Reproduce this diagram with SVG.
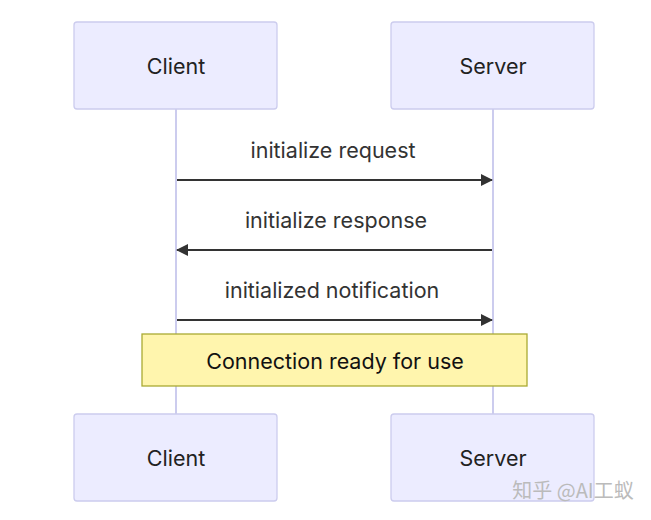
<svg xmlns="http://www.w3.org/2000/svg" width="651" height="520" viewBox="0 0 651 520">
<style>
.actor{fill:#ECECFF;stroke:#CCCCEE;stroke-width:1.3}
.t{font-family:Inter,"Liberation Sans",sans-serif;font-size:21.5px;fill:#222;text-anchor:middle}
.m{font-family:Inter,"Liberation Sans",sans-serif;font-size:21.5px;fill:#333;text-anchor:middle}
.life{stroke:#CCCCEE;stroke-width:2}
.msg{stroke:#333;stroke-width:2;fill:none}
</style>
<defs>
<marker id="ah" viewBox="0 0 12 12" refX="11" refY="6" markerWidth="12" markerHeight="12" markerUnits="userSpaceOnUse" orient="auto"><path d="M0,0L12,6L0,12z" fill="#333"/></marker>
</defs>
<rect width="651" height="520" fill="#fff"/>
<g id="lifelines">
<line class="life" x1="176" y1="109" x2="176" y2="414"/>
<line class="life" x1="493" y1="109" x2="493" y2="414"/>
</g>
<g id="client-top"><rect class="actor" x="74" y="22" width="203" height="87" rx="3"/><text class="t" x="176" y="74">Client</text></g>
<g id="server-top"><rect class="actor" x="391" y="22" width="203" height="87" rx="3"/><text class="t" x="493" y="74">Server</text></g>
<g id="client-bottom"><rect class="actor" x="74" y="414" width="203" height="87" rx="3"/><text class="t" x="176" y="466">Client</text></g>
<g id="server-bottom"><rect class="actor" x="391" y="414" width="203" height="87" rx="3"/><text class="t" x="493" y="466">Server</text></g>
<g id="connectors">
<line class="msg" x1="177" y1="180" x2="492" y2="180" marker-end="url(#ah)"/>
<text class="m" x="333" y="158">initialize request</text>
<line class="msg" x1="492" y1="250" x2="177" y2="250" marker-end="url(#ah)"/>
<text class="m" x="336" y="228">initialize response</text>
<line class="msg" x1="177" y1="320" x2="492" y2="320" marker-end="url(#ah)"/>
<text class="m" x="332" y="298">initialized notification</text>
</g>
<g id="note"><rect x="142" y="334" width="385" height="52" fill="#FFF5AD" stroke="#AAAA33" stroke-width="1.3"/><text class="t" x="335" y="369" style="fill:#111">Connection ready for use</text></g>
<text x="573" y="498" style="font-family:'Noto Sans CJK SC',sans-serif;font-size:20px;fill:#bbb;text-anchor:middle">知乎 @AI工蚁</text>
</svg>
